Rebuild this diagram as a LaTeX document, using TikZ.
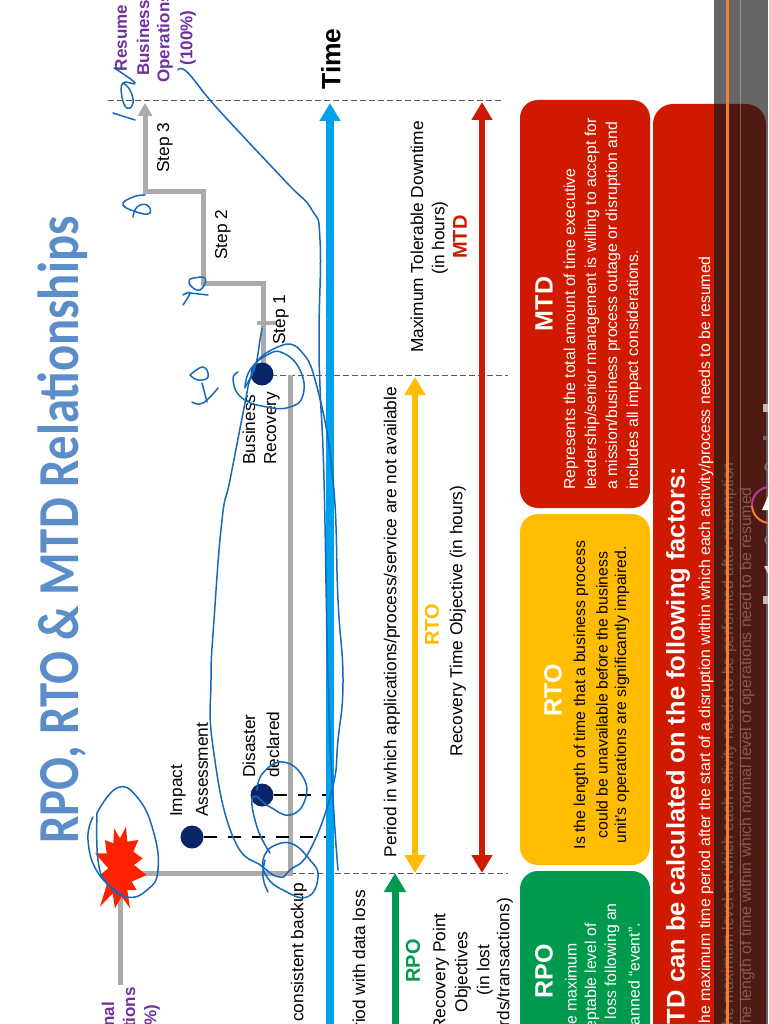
\documentclass[tikz,border=0pt]{standalone}
\usepackage{fontspec}
\setmainfont{Liberation Sans}
\newfontfamily\titlefont[FakeStretch=0.84]{Carlito}
\usetikzlibrary{arrows.meta}
\definecolor{hand}{HTML}{1469BC}
\definecolor{timeblue}{HTML}{00A2EE}
\definecolor{greyline}{HTML}{ABABAB}
\definecolor{navy}{HTML}{0A2468}
\definecolor{purp}{HTML}{7030A0}
\definecolor{gold}{HTML}{FFBC00}
\definecolor{redbox}{HTML}{CF1A00}
\definecolor{greenbox}{HTML}{009A4E}
\definecolor{stripgrey}{HTML}{666666}
\definecolor{stripred}{HTML}{501A14}
\definecolor{titleblue}{HTML}{5B8EC8}
\definecolor{burst}{HTML}{FF2200}
\definecolor{stripe}{HTML}{F08030}
\definecolor{ringpink}{HTML}{B03AA0}
\tikzset{
 lbl/.style={rotate=90,inner sep=0pt,font=\fontsize{17.3}{20}\selectfont,text=black},
 purplbl/.style={rotate=90,inner sep=0pt,font=\fontsize{17}{20}\selectfont\bfseries,text=purp},
 head/.style={rotate=90,inner sep=0pt,font=\fontsize{25}{28}\selectfont\bfseries,text=white},
 bodyw/.style={rotate=90,inner sep=0pt,font=\fontsize{15.8}{18}\selectfont,text=white},
 bodyk/.style={rotate=90,inner sep=0pt,font=\fontsize{15.8}{18}\selectfont,text=black},
 greyl/.style={draw=greyline,line width=5pt},
 dot/.style={circle,fill=navy,minimum size=23pt,inner sep=0pt},
 dashv/.style={draw=black!65,line width=1pt,dash pattern=on 6pt off 3pt},
 dashb/.style={draw=black,line width=2pt,dash pattern=on 13pt off 11pt},
 pen/.style={draw=hand,line width=1.5pt,line cap=round,line join=round},
 hw/.style={pen,smooth,tension=0.8},
 box/.style={rounded corners=18pt},
}
\begin{document}
\begin{tikzpicture}[x=1pt,y=-1pt]
\useasboundingbox (0,0) rectangle (768,1024);
\fill[white] (0,0) rectangle (768,1024);
% title
\node[rotate=90,inner sep=0pt,text=titleblue,font=\titlefont\fontsize{58}{60}\selectfont\bfseries] (title) at (63,530) {RPO, RTO \& MTD Relationships};
% boxes
\fill[greenbox,box] (520,871) rectangle (650,1060);
\fill[gold,box] (520,514) rectangle (650,865);
\fill[redbox,box] (520,100) rectangle (650,508);
\fill[redbox,rounded corners=20pt] (653,104) rectangle (766,1060);
% vertical guides
\coordinate (ga1) at (108,101); \coordinate (gb1) at (503,101);
\coordinate (ga2) at (262,375); \coordinate (gb2) at (508,375);
\coordinate (ga3) at (290,873); \coordinate (gb3) at (508,873);
\draw[dashv] (ga1)--(gb1);
\draw[dashv] (ga2)--(gb2);
\draw[dashv] (ga3)--(gb3);
% grey steps
\coordinate (n0) at (120,985);
\coordinate (n1) at (120,873);
\coordinate (n2) at (290,873);
\coordinate (n3) at (290,375);
\draw[greyl] (n0)--(n1)--(n2)--(n3);
\coordinate (s0) at (263,363);
\coordinate (s1) at (263,283);
\coordinate (s2) at (203,283);
\coordinate (s3) at (203,192);
\coordinate (s4) at (145,192);
\coordinate (s5) at (145,103);
\draw[greyl,-{Triangle[length=13pt,width=14pt]}] (s0)--(s1)--(s2)--(s3)--(s4)--(s5);
\coordinate (t1) at (257,323); \coordinate (t2) at (277,323);
\draw[greyl,line width=4pt] (t1)--(t2);
% dots
\node[dot] (d3) at (262,374) {};
\node[dot] (d2) at (262,795) {};
\node[dot] (d1) at (192,837) {};
\coordinate (e2) at (332,795); \coordinate (e1) at (330,837);
\draw[dashb] (d2)--(e2);
\draw[dashb] (d1)--(e1);
% star
\begin{scope}[shift={(90,680)},scale=1/3]
\fill[burst] (170,585)--(125,605)--(140,630)--(112,630)--(120,685)--(95,650)--(75,685)--(68,640)--(30,680)--(50,615)--(30,585)--(55,565)--(15,520)--(50,520)--(45,480)--(70,490)--(72,445)--(90,475)--(108,440)--(112,485)--(145,480)--(130,515)--(158,535)--(132,555)--cycle;
\end{scope}
% arrows
\coordinate (ta) at (330,1030); \coordinate (tb) at (330,103);
\draw[timeblue,line width=8pt,-{Triangle[length=18pt,width=20pt]}] (ta)--(tb);
\coordinate (ra) at (395,1030); \coordinate (rb) at (395,873);
\draw[greenbox,line width=7pt,-{Triangle[length=19pt,width=21pt]}] (ra)--(rb);
\coordinate (oa) at (415,873); \coordinate (ob) at (415,377);
\draw[gold,line width=6.5pt,{Triangle[length=18pt,width=20pt]}-{Triangle[length=18pt,width=20pt]}] (oa)--(ob);
\coordinate (ma) at (482,873); \coordinate (mb) at (482,102);
\draw[redbox,line width=6.5pt,{Triangle[length=18pt,width=20pt]}-{Triangle[length=18pt,width=20pt]}] (ma)--(mb);
% labels
\node[rotate=90,inner sep=0pt,font=\fontsize{26.5}{30}\selectfont\bfseries] (time) at (331,59) {Time};
\node[purplbl,anchor=east] (p1) at (108,1002) {nal};
\node[purplbl,anchor=east] (p2) at (129,987) {tions};
\node[purplbl,anchor=east] (p3) at (152,1005) {\%)};
\node[purplbl] (r1) at (121,38) {Resume};
\node[purplbl] (r2) at (143,38) {Business};
\node[purplbl,anchor=west] (r3) at (165,83) {Operations};
\node[purplbl] (r4) at (188,38) {(100\%)};
\node[lbl,anchor=west] (ia1) at (178,817) {Impact};
\node[lbl,anchor=west] (ia2) at (202,817) {Assessment};
\node[lbl,anchor=west] (dd1) at (249,778) {Disaster};
\node[lbl,anchor=west] (dd2) at (273,778) {declared};
\node[lbl,anchor=west] (br1) at (249,465) {Business};
\node[lbl,anchor=west] (br2) at (272,465) {Recovery};
\node[lbl,anchor=west] (st1) at (281,345) {Step 1};
\node[lbl,anchor=west] (st2) at (223,260) {Step 2};
\node[lbl,anchor=west] (st3) at (165,173) {Step 3};
\node[lbl,anchor=east] (cb) at (299,883) {consistent backup};
\node[lbl,anchor=east] (dl) at (359,890) {riod with data loss};
\node[lbl] (per) at (392,622) {Period in which applications/process/service are not available};
\node[rotate=90,inner sep=0pt,font=\fontsize{20}{22}\selectfont\bfseries,text=gold] (rto) at (432,625) {RTO};
\node[lbl] (rtod) at (458,621) {Recovery Time Objective (in hours)};
\node[lbl] (m1) at (417,237) {Maximum Tolerable Downtime};
\node[lbl] (m2) at (440,238) {(in hours)};
\node[rotate=90,inner sep=0pt,font=\fontsize{20}{22}\selectfont\bfseries,text=redbox] (mtd) at (460,237) {MTD};
\node[rotate=90,inner sep=0pt,font=\fontsize{20}{22}\selectfont\bfseries,text=greenbox] (rpo) at (413,961) {RPO};
\node[lbl,anchor=east] (o1) at (441,913) {Recovery Point};
\node[lbl] (o2) at (463,972) {Objectives};
\node[lbl] (o3) at (485,970) {(in lost};
\node[lbl,anchor=east] (o4) at (505,898) {ords/transactions)};
% box text
\node[head] (mh) at (544,304) {MTD};
\node[bodyw,anchor=west] (mt1) at (571,490) {Represents the total amount of time executive};
\node[bodyw,anchor=west] (mt2) at (592,490) {leadership/senior management is willing to accept for};
\node[bodyw,anchor=west] (mt3) at (613,490) {a mission/business process outage or disruption and};
\node[bodyw,anchor=west] (mt4) at (634,490) {includes all impact considerations.};
\node[head] (rh) at (553,690) {RTO};
\node[bodyk] (rt1) at (581,695) {Is the length of time that a business process};
\node[bodyk] (rt2) at (602,695) {could be unavailable before the business};
\node[bodyk] (rt3) at (622,695) {unit's operations are significantly impaired.};
\node[head] (ph) at (544,971) {RPO};
\node[bodyw,anchor=east] (pt1) at (571,943) {e maximum};
\node[bodyw,anchor=east] (pt2) at (592,923) {eptable level of};
\node[bodyw,anchor=east] (pt3) at (612,903) {loss following an};
\node[bodyw,anchor=east] (pt4) at (634,923) {anned “event”.};
\node[rotate=90,inner sep=0pt,font=\fontsize{25.5}{28}\selectfont\bfseries,text=white,anchor=east] (bh) at (678,467) {TD can be calculated on the following factors:};
\node[bodyw,anchor=east] (b1) at (706,256) {he maximum time period after the start of a disruption within which each activity/process needs to be resumed};
% overlay strip
\fill[stripgrey] (714,0) rectangle (768,1024);
\begin{scope}
\clip (714,0) rectangle (768,1024);
\fill[stripred,rounded corners=20pt] (653,104) rectangle (766,1060);
\end{scope}
\fill[white,opacity=.3] (740,0) rectangle (741,1024);
\node[bodyw,text=white!25!stripred,anchor=east] (b2) at (729,462) {he maximum level at which each activity needs to be performed after resumption};
\node[bodyw,text=white!28!stripred,anchor=east] (b3) at (747,487) {he length of time within which normal level of operations need to be resumed};
\fill[stripe] (725.5,0) rectangle (728.5,1024);
% bottom-edge icons
\begin{scope}
\clip (714,505) rectangle (768,530);
\draw[stripe,line width=2pt] (770,505) circle (18);
\end{scope}
\begin{scope}
\clip (714,480) rectangle (768,505);
\draw[ringpink,line width=2pt] (770,505) circle (18);
\end{scope}
\fill[white] (768,496)--(762,510)--(768,510)--cycle;
\fill[white!70!stripred] (763,404) rectangle (768,412);
\fill[white!30!stripred] (763,436) rectangle (768,440);
\begin{scope}
\clip (714,0) rectangle (768,1024);
\draw[white!40!stripred,line width=1.3pt] (769,467) circle (4);
\draw[white!40!stripred,line width=1.3pt] (769,540) circle (4);
\end{scope}
\fill[white!80!stripred] (764,566)--(768,566)--(768,574)--cycle;
\fill[white!70!stripred] (763,596) rectangle (768,604);
% handwriting
\draw[hw] plot coordinates {(114,68)(135,83)(123,83)(122,97)(127,108)(133,103)(130,90)(123,83)};
\draw[pen] (113,113)--(135,120);
\draw[hw] plot coordinates {(178,70)(187,72)(210,100)(240,133)(287,183)(312,210)(320,240)(319,333)(320,387)(324,480)(328,680)(333,797)(338,870)};
\draw[hw] plot coordinates {(262,328)(260,340)(255,367)(245,387)};
\draw[hw] plot coordinates {(283,345)(300,350)(317,387)(333,480)(338,600)(343,680)(338,740)(332,790)(310,850)(290,870)(280,877)(263,867)(233,837)(213,747)(211,680)(214,620)(222,520)(230,480)(245,403)(250,380)(260,358)(283,345)};
\draw[hw] plot coordinates {(238,372)(233,380)(242,398)(267,407)(290,407)(303,395)(300,370)(283,353)(267,355)(250,370)(245,388)};
\draw[hw] plot coordinates {(257,790)(263,773)(283,762)(303,777)(305,800)(290,815)(270,807)(253,797)(257,827)(270,853)};
\draw[hw] plot coordinates {(270,848)(290,843)(310,860)(318,877)(307,897)(283,890)(267,877)(263,860)(270,848)};
\draw[hw] plot coordinates {(265,860)(263,877)(268,892)};
\draw[hw] plot coordinates {(97,813)(117,788)(137,797)(153,830)(158,870)(147,890)(127,897)(107,883)(98,860)(97,813)};
\draw[hw] plot coordinates {(93,817)(88,840)(98,873)(122,895)};
\draw[hw] plot coordinates {(145,195)(133,197)(123,205)(140,213)(150,213)(147,205)(137,207)(133,217)};
\draw[hw] plot coordinates {(183,295)(190,293)(183,305)};
\draw[pen] (190,293)--(208,295);
\draw[hw] plot coordinates {(190,279)(205,278)(200,290)(190,285)(190,279)};
\draw[hw] plot coordinates {(192,402)(203,403)(218,388)};
\draw[pen] (202,383)--(207,402);
\draw[hw] plot coordinates {(190,375)(203,367)(208,377)(198,380)(190,375)};
\end{tikzpicture}
\end{document}
